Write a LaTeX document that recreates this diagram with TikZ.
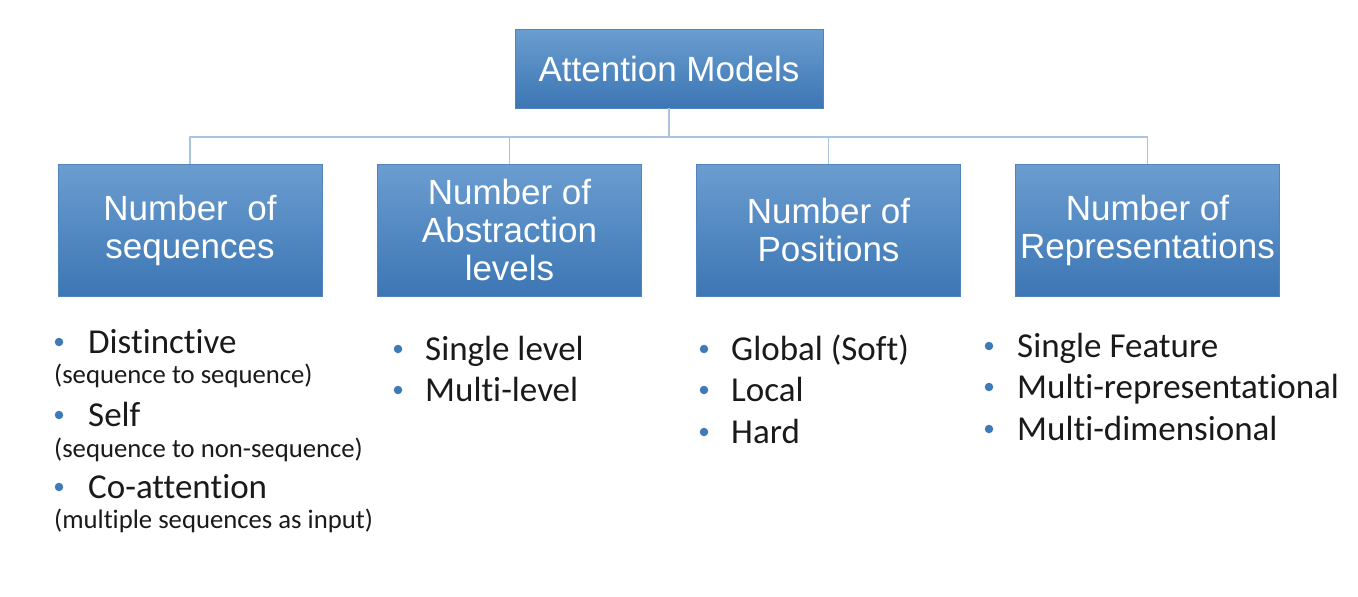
\documentclass[tikz,border=0pt]{standalone}
\usepackage{fontspec}
\setmainfont{Liberation Sans}
\newfontfamily\bodyfont[Ligatures={NoCommon}]{Carlito}
\definecolor{boxtop}{HTML}{6B9DD0}
\definecolor{boxbot}{HTML}{3C76B4}
\definecolor{linkc}{HTML}{A9C4DE}
\definecolor{dotc}{HTML}{3F7AB8}
\definecolor{txt}{HTML}{1A1A1A}
\tikzset{
  catbox/.style={rectangle, top color=boxtop, bottom color=boxbot, draw=boxbot!90!white, line width=0.6pt,
    minimum width=264pt, minimum height=132pt, inner sep=0pt, text=white, align=center,
    font=\fontsize{35}{38}\selectfont},
  link/.style={draw=linkc, line width=1.3pt},
  item/.style={anchor=base west, inner sep=0pt, text=txt, font=\bodyfont\fontsize{35}{40}\selectfont},
  sub/.style={anchor=base west, inner sep=0pt, text=txt, font=\bodyfont\fontsize{26.7}{30}\selectfont},
  dot/.style={circle, fill=dotc, inner sep=0pt, minimum size=8.5pt}
}
\begin{document}
\begin{tikzpicture}[x=1pt,y=-1pt]
\useasboundingbox (0,0) rectangle (1358,597);
\fill[white] (0,0) rectangle (1358,597);
% top node
\node[catbox, minimum width=308pt, minimum height=79pt] (root) at (669,68.5) {Attention Models};
% category boxes
\node[catbox] (c1) at (190,230) {Number\ \ of\\sequences};
\node[catbox] (c2) at (509.5,230) {Number of\\Abstraction\\levels};
\node[catbox] (c3) at (828.5,230) {Number of\\Positions};
\node[catbox] (c4) at (1147.5,230) {Number of\\Representations};
% connectors
\coordinate (bus) at (669,137);
\draw[link] (root.south) -- (bus);
\draw[link] (c1.north) |- (bus) -| (c4.north);
\draw[link] (c2.north) -- (c2.north |- bus);
\draw[link] (c3.north) -- (c3.north |- bus);
% column 1
\node[dot] (d11) at (59,342) {};
\node[item] (t11) at (88,353) {Distinctive};
\node[sub] (s11) at (54,383) {(sequence to sequence)};
\node[dot] (d12) at (59,415) {};
\node[item] (t12) at (88,426) {Self};
\node[sub] (s12) at (54,457) {(sequence to non-sequence)};
\node[dot] (d13) at (59,487) {};
\node[item] (t13) at (88,498) {Co-attention};
\node[sub] (s13) at (54,528) {(multiple sequences as input)};
% column 2
\node[dot] (d21) at (398,349) {};
\node[item] (t21) at (425,360) {Single level};
\node[dot] (d22) at (398,390) {};
\node[item] (t22) at (425,401) {Multi-level};
% column 3
\node[dot] (d31) at (704,349) {};
\node[item] (t31) at (731,360) {Global (Soft)};
\node[dot] (d32) at (704,390) {};
\node[item] (t32) at (731,401) {Local};
\node[dot] (d33) at (704,432) {};
\node[item] (t33) at (731,443) {Hard};
% column 4
\node[dot] (d41) at (989,346) {};
\node[item] (t41) at (1017,357) {Single Feature};
\node[dot] (d42) at (989,387) {};
\node[item] (t42) at (1017,398) {Multi-representational};
\node[dot] (d43) at (989,429) {};
\node[item] (t43) at (1017,440) {Multi-dimensional};
\end{tikzpicture}
\end{document}
